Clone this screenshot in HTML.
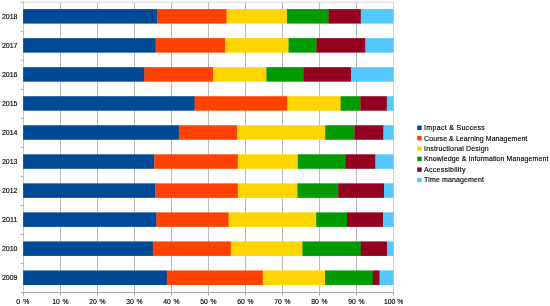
<!DOCTYPE html><html><head><meta charset="utf-8"><title>Chart</title><style>html,body{margin:0;padding:0;background:#fff}svg{display:block}text{font-family:"Liberation Sans",sans-serif}</style></head><body>
<svg width="550" height="306" viewBox="0 0 550 306">
<rect width="550" height="306" fill="#fff"/>
<g stroke="#bcbcbc" stroke-width="1" fill="none">
<line x1="60.5" y1="2.2" x2="60.5" y2="292.50"/>
<line x1="97.5" y1="2.2" x2="97.5" y2="292.50"/>
<line x1="134.5" y1="2.2" x2="134.5" y2="292.50"/>
<line x1="171.5" y1="2.2" x2="171.5" y2="292.50"/>
<line x1="208.5" y1="2.2" x2="208.5" y2="292.50"/>
<line x1="245.5" y1="2.2" x2="245.5" y2="292.50"/>
<line x1="282.5" y1="2.2" x2="282.5" y2="292.50"/>
<line x1="319.5" y1="2.2" x2="319.5" y2="292.50"/>
<line x1="356.5" y1="2.2" x2="356.5" y2="292.50"/>
</g>
<g stroke="#d2d2d2" stroke-width="1" fill="none">
<line x1="23.5" y1="2.2" x2="394.0" y2="2.2"/>
<line x1="393.5" y1="2.2" x2="393.5" y2="292.50"/>
</g>
<line x1="23.5" y1="2.2" x2="23.5" y2="292.50" stroke="#c6c6c6" stroke-width="1"/>
<g stroke="#ababab" stroke-width="1" fill="none">
<line x1="21.0" y1="292.50" x2="394.0" y2="292.50"/>
<line x1="23.5" y1="292.50" x2="23.5" y2="295.60"/>
<line x1="60.5" y1="292.50" x2="60.5" y2="295.60"/>
<line x1="97.5" y1="292.50" x2="97.5" y2="295.60"/>
<line x1="134.5" y1="292.50" x2="134.5" y2="295.60"/>
<line x1="171.5" y1="292.50" x2="171.5" y2="295.60"/>
<line x1="208.5" y1="292.50" x2="208.5" y2="295.60"/>
<line x1="245.5" y1="292.50" x2="245.5" y2="295.60"/>
<line x1="282.5" y1="292.50" x2="282.5" y2="295.60"/>
<line x1="319.5" y1="292.50" x2="319.5" y2="295.60"/>
<line x1="356.5" y1="292.50" x2="356.5" y2="295.60"/>
<line x1="393.5" y1="292.50" x2="393.5" y2="295.60"/>
<line x1="20.5" y1="2.20" x2="23.5" y2="2.20"/>
<line x1="20.5" y1="31.23" x2="23.5" y2="31.23"/>
<line x1="20.5" y1="60.26" x2="23.5" y2="60.26"/>
<line x1="20.5" y1="89.29" x2="23.5" y2="89.29"/>
<line x1="20.5" y1="118.32" x2="23.5" y2="118.32"/>
<line x1="20.5" y1="147.35" x2="23.5" y2="147.35"/>
<line x1="20.5" y1="176.38" x2="23.5" y2="176.38"/>
<line x1="20.5" y1="205.41" x2="23.5" y2="205.41"/>
<line x1="20.5" y1="234.44" x2="23.5" y2="234.44"/>
<line x1="20.5" y1="263.47" x2="23.5" y2="263.47"/>
</g>
<rect x="23.15" y="9.10" width="134.15" height="14.5" fill="#004994"/>
<rect x="157.00" y="9.10" width="69.90" height="14.5" fill="#ff4200"/>
<rect x="226.60" y="9.10" width="60.70" height="14.5" fill="#ffd500"/>
<rect x="287.00" y="9.10" width="41.90" height="14.5" fill="#029a02"/>
<rect x="328.60" y="9.10" width="32.50" height="14.5" fill="#94001f"/>
<rect x="360.80" y="9.10" width="32.70" height="14.5" fill="#52c8ff"/>
<rect x="23.15" y="38.14" width="132.75" height="14.5" fill="#004994"/>
<rect x="155.60" y="38.14" width="69.90" height="14.5" fill="#ff4200"/>
<rect x="225.20" y="38.14" width="63.70" height="14.5" fill="#ffd500"/>
<rect x="288.60" y="38.14" width="28.20" height="14.5" fill="#029a02"/>
<rect x="316.50" y="38.14" width="49.20" height="14.5" fill="#94001f"/>
<rect x="365.40" y="38.14" width="28.10" height="14.5" fill="#52c8ff"/>
<rect x="23.15" y="67.18" width="121.55" height="14.5" fill="#004994"/>
<rect x="144.40" y="67.18" width="69.10" height="14.5" fill="#ff4200"/>
<rect x="213.20" y="67.18" width="53.50" height="14.5" fill="#ffd500"/>
<rect x="266.40" y="67.18" width="37.50" height="14.5" fill="#029a02"/>
<rect x="303.60" y="67.18" width="47.70" height="14.5" fill="#94001f"/>
<rect x="351.00" y="67.18" width="42.50" height="14.5" fill="#52c8ff"/>
<rect x="23.15" y="96.22" width="171.75" height="14.5" fill="#004994"/>
<rect x="194.60" y="96.22" width="93.10" height="14.5" fill="#ff4200"/>
<rect x="287.40" y="96.22" width="53.50" height="14.5" fill="#ffd500"/>
<rect x="340.60" y="96.22" width="20.10" height="14.5" fill="#029a02"/>
<rect x="360.40" y="96.22" width="26.70" height="14.5" fill="#94001f"/>
<rect x="386.80" y="96.22" width="6.70" height="14.5" fill="#52c8ff"/>
<rect x="23.15" y="125.26" width="155.95" height="14.5" fill="#004994"/>
<rect x="178.80" y="125.26" width="58.70" height="14.5" fill="#ff4200"/>
<rect x="237.20" y="125.26" width="88.30" height="14.5" fill="#ffd500"/>
<rect x="325.20" y="125.26" width="29.50" height="14.5" fill="#029a02"/>
<rect x="354.40" y="125.26" width="29.30" height="14.5" fill="#94001f"/>
<rect x="383.40" y="125.26" width="10.10" height="14.5" fill="#52c8ff"/>
<rect x="23.15" y="154.30" width="131.35" height="14.5" fill="#004994"/>
<rect x="154.20" y="154.30" width="83.90" height="14.5" fill="#ff4200"/>
<rect x="237.80" y="154.30" width="60.30" height="14.5" fill="#ffd500"/>
<rect x="297.80" y="154.30" width="48.10" height="14.5" fill="#029a02"/>
<rect x="345.60" y="154.30" width="30.10" height="14.5" fill="#94001f"/>
<rect x="375.40" y="154.30" width="18.10" height="14.5" fill="#52c8ff"/>
<rect x="23.15" y="183.34" width="132.35" height="14.5" fill="#004994"/>
<rect x="155.20" y="183.34" width="82.90" height="14.5" fill="#ff4200"/>
<rect x="237.80" y="183.34" width="59.90" height="14.5" fill="#ffd500"/>
<rect x="297.40" y="183.34" width="41.10" height="14.5" fill="#029a02"/>
<rect x="338.20" y="183.34" width="46.10" height="14.5" fill="#94001f"/>
<rect x="384.00" y="183.34" width="9.50" height="14.5" fill="#52c8ff"/>
<rect x="23.15" y="212.38" width="133.55" height="14.5" fill="#004994"/>
<rect x="156.40" y="212.38" width="72.50" height="14.5" fill="#ff4200"/>
<rect x="228.60" y="212.38" width="87.90" height="14.5" fill="#ffd500"/>
<rect x="316.20" y="212.38" width="31.10" height="14.5" fill="#029a02"/>
<rect x="347.00" y="212.38" width="36.30" height="14.5" fill="#94001f"/>
<rect x="383.00" y="212.38" width="10.50" height="14.5" fill="#52c8ff"/>
<rect x="23.15" y="241.42" width="129.95" height="14.5" fill="#004994"/>
<rect x="152.80" y="241.42" width="78.30" height="14.5" fill="#ff4200"/>
<rect x="230.80" y="241.42" width="71.90" height="14.5" fill="#ffd500"/>
<rect x="302.40" y="241.42" width="58.70" height="14.5" fill="#029a02"/>
<rect x="360.80" y="241.42" width="26.50" height="14.5" fill="#94001f"/>
<rect x="387.00" y="241.42" width="6.50" height="14.5" fill="#52c8ff"/>
<rect x="23.15" y="270.46" width="143.95" height="14.5" fill="#004994"/>
<rect x="166.80" y="270.46" width="96.30" height="14.5" fill="#ff4200"/>
<rect x="262.80" y="270.46" width="62.50" height="14.5" fill="#ffd500"/>
<rect x="325.00" y="270.46" width="48.10" height="14.5" fill="#029a02"/>
<rect x="372.80" y="270.46" width="7.10" height="14.5" fill="#94001f"/>
<rect x="379.60" y="270.46" width="13.90" height="14.5" fill="#52c8ff"/>
<text x="2.0" y="18.95" textLength="15.4" lengthAdjust="spacing" font-size="7" fill="#000" stroke="#000" stroke-width="0.14">2018</text>
<text x="2.0" y="47.99" textLength="15.4" lengthAdjust="spacing" font-size="7" fill="#000" stroke="#000" stroke-width="0.14">2017</text>
<text x="2.0" y="77.03" textLength="15.4" lengthAdjust="spacing" font-size="7" fill="#000" stroke="#000" stroke-width="0.14">2016</text>
<text x="2.0" y="106.07" textLength="15.4" lengthAdjust="spacing" font-size="7" fill="#000" stroke="#000" stroke-width="0.14">2015</text>
<text x="2.0" y="135.11" textLength="15.4" lengthAdjust="spacing" font-size="7" fill="#000" stroke="#000" stroke-width="0.14">2014</text>
<text x="2.0" y="164.15" textLength="15.4" lengthAdjust="spacing" font-size="7" fill="#000" stroke="#000" stroke-width="0.14">2013</text>
<text x="2.0" y="193.19" textLength="15.4" lengthAdjust="spacing" font-size="7" fill="#000" stroke="#000" stroke-width="0.14">2012</text>
<text x="2.0" y="222.23" textLength="15.4" lengthAdjust="spacing" font-size="7" fill="#000" stroke="#000" stroke-width="0.14">2011</text>
<text x="2.0" y="251.27" textLength="15.4" lengthAdjust="spacing" font-size="7" fill="#000" stroke="#000" stroke-width="0.14">2010</text>
<text x="2.0" y="280.31" textLength="15.4" lengthAdjust="spacing" font-size="7" fill="#000" stroke="#000" stroke-width="0.14">2009</text>
<text y="303.8" font-size="6.8" fill="#000" stroke="#000" stroke-width="0.14"><tspan x="16.20">0</tspan><tspan x="29.20" text-anchor="end"> %</tspan></text>
<text y="303.8" font-size="6.8" fill="#000" stroke="#000" stroke-width="0.14"><tspan x="52.30">10</tspan><tspan x="68.60" text-anchor="end"> %</tspan></text>
<text y="303.8" font-size="6.8" fill="#000" stroke="#000" stroke-width="0.14"><tspan x="89.30">20</tspan><tspan x="105.60" text-anchor="end"> %</tspan></text>
<text y="303.8" font-size="6.8" fill="#000" stroke="#000" stroke-width="0.14"><tspan x="126.30">30</tspan><tspan x="142.60" text-anchor="end"> %</tspan></text>
<text y="303.8" font-size="6.8" fill="#000" stroke="#000" stroke-width="0.14"><tspan x="163.30">40</tspan><tspan x="179.60" text-anchor="end"> %</tspan></text>
<text y="303.8" font-size="6.8" fill="#000" stroke="#000" stroke-width="0.14"><tspan x="200.30">50</tspan><tspan x="216.60" text-anchor="end"> %</tspan></text>
<text y="303.8" font-size="6.8" fill="#000" stroke="#000" stroke-width="0.14"><tspan x="237.30">60</tspan><tspan x="253.60" text-anchor="end"> %</tspan></text>
<text y="303.8" font-size="6.8" fill="#000" stroke="#000" stroke-width="0.14"><tspan x="274.30">70</tspan><tspan x="290.60" text-anchor="end"> %</tspan></text>
<text y="303.8" font-size="6.8" fill="#000" stroke="#000" stroke-width="0.14"><tspan x="311.30">80</tspan><tspan x="327.60" text-anchor="end"> %</tspan></text>
<text y="303.8" font-size="6.8" fill="#000" stroke="#000" stroke-width="0.14"><tspan x="348.30">90</tspan><tspan x="364.60" text-anchor="end"> %</tspan></text>
<text y="303.8" font-size="6.8" fill="#000" stroke="#000" stroke-width="0.14"><tspan x="384.00">100</tspan><tspan x="403.30" text-anchor="end"> %</tspan></text>
<rect x="417.2" y="125.60" width="4.5" height="4.4" fill="#004994"/>
<text x="424.1" y="130" textLength="60.60" lengthAdjust="spacing" font-size="7" fill="#000" stroke="#000" stroke-width="0.14">Impact &amp; Success</text>
<rect x="417.2" y="135.95" width="4.5" height="4.4" fill="#ff4200"/>
<text x="424.1" y="141" textLength="103.20" lengthAdjust="spacing" font-size="7" fill="#000" stroke="#000" stroke-width="0.14">Course &amp; Learning Management</text>
<rect x="417.2" y="146.35" width="4.5" height="4.4" fill="#ffd500"/>
<text x="424.1" y="151" textLength="64.60" lengthAdjust="spacing" font-size="7" fill="#000" stroke="#000" stroke-width="0.14">Instructional Design</text>
<rect x="417.2" y="156.70" width="4.5" height="4.4" fill="#029a02"/>
<text x="424.1" y="161" textLength="124.30" lengthAdjust="spacing" font-size="7" fill="#000" stroke="#000" stroke-width="0.14">Knowledge &amp; Information Management</text>
<rect x="417.2" y="167.45" width="4.5" height="4.4" fill="#94001f"/>
<text x="424.1" y="172" textLength="41.30" lengthAdjust="spacing" font-size="7" fill="#000" stroke="#000" stroke-width="0.14">Accessibility</text>
<rect x="417.2" y="177.80" width="4.5" height="4.4" fill="#52c8ff"/>
<text x="424.1" y="182" textLength="59.90" lengthAdjust="spacing" font-size="7" fill="#000" stroke="#000" stroke-width="0.14">Time management</text>
</svg></body></html>
